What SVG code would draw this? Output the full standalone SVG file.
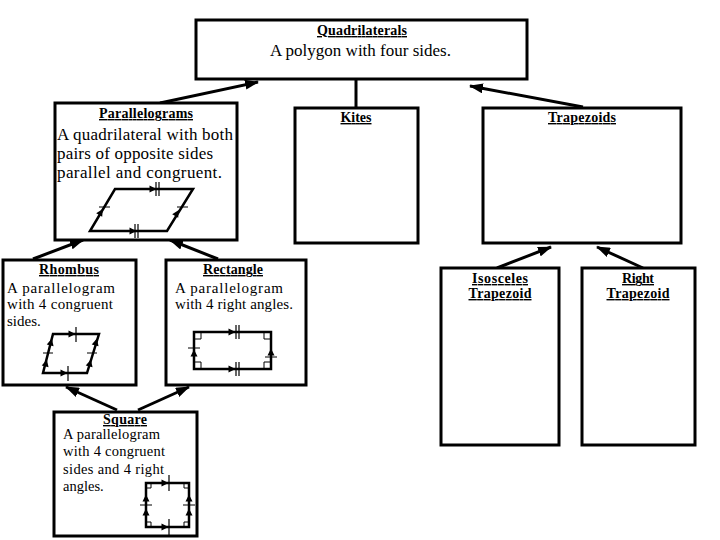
<svg xmlns="http://www.w3.org/2000/svg" xmlns:xlink="http://www.w3.org/1999/xlink" width="720" height="540" viewBox="0 0 720 540">
<style>
.box{fill:#fff;stroke:#000;stroke-width:3}
.title{font-family:"Liberation Serif","DejaVu Serif",serif;font-weight:bold;font-size:14px;text-decoration:underline;text-anchor:middle;fill:#000}
.body{font-family:"Liberation Serif","DejaVu Serif",serif;font-size:15px;fill:#000}
.big{font-size:17px}
.sm{font-size:14.5px}
.conn{stroke:#000;stroke-width:3;fill:none}
.shape{fill:none;stroke:#000;stroke-width:2.5}
.tick{stroke:#000;stroke-width:1.2;fill:none}
.ra{fill:none;stroke:#000;stroke-width:1}
</style>
<defs>
<marker id="arr" markerUnits="userSpaceOnUse" markerWidth="14" markerHeight="10" viewBox="0 0 14 10" refX="13" refY="5" orient="auto">
<path d="M0,0 L14,5 L0,10 z" fill="#000"/>
</marker>
<path id="tri" d="M-3.5,-3.5 L3.5,0 L-3.5,3.5 Z" fill="#000"/>
</defs>

<g id="connectors">
<line class="conn" x1="160" y1="103" x2="258" y2="82" marker-end="url(#arr)"/>
<line class="conn" x1="356" y1="79" x2="356" y2="108"/>
<line class="conn" x1="583" y1="107" x2="470" y2="86" marker-end="url(#arr)"/>
<line class="conn" x1="33" y1="259" x2="83" y2="240" marker-end="url(#arr)"/>
<line class="conn" x1="218" y1="259" x2="170" y2="240" marker-end="url(#arr)"/>
<line class="conn" x1="117" y1="410" x2="66" y2="387" marker-end="url(#arr)"/>
<line class="conn" x1="138" y1="410" x2="189" y2="387" marker-end="url(#arr)"/>
<line class="conn" x1="497" y1="268" x2="551" y2="247" marker-end="url(#arr)"/>
<line class="conn" x1="643" y1="268" x2="597" y2="247" marker-end="url(#arr)"/>
</g>

<g id="quadrilaterals">
<rect class="box" x="196" y="20" width="331" height="59"/>
<text class="title" x="362" y="35" textLength="90">Quadrilaterals</text>
<text class="body big" x="270" y="56" textLength="181">A polygon with four sides.</text>
</g>

<g id="parallelograms">
<rect class="box" x="55" y="103" width="182" height="137"/>
<text class="title" x="146" y="118" textLength="94">Parallelograms</text>
<text class="body big" x="57" y="140" textLength="176">A quadrilateral with both</text>
<text class="body big" x="57" y="159" textLength="156">pairs of opposite sides</text>
<text class="body big" x="57" y="178" textLength="165">parallel and congruent.</text>
<polygon class="shape" points="115,189 193,189 167,231 90,231"/>
<path class="tick" d="M156,182 V196 M159,182 V196 M135,224 V238 M138,224 V238 M99,207 H110 M177,207 H188"/>
<use xlink:href="#tri" transform="translate(153,189)"/>
<use xlink:href="#tri" transform="translate(133,231)"/>
<use xlink:href="#tri" transform="translate(101,212) rotate(-59)"/>
<use xlink:href="#tri" transform="translate(177,213) rotate(-59)"/>
</g>

<g id="kites">
<rect class="box" x="295" y="108" width="123" height="135"/>
<text class="title" x="356" y="122" textLength="31">Kites</text>
</g>

<g id="trapezoids">
<rect class="box" x="483" y="108" width="198" height="135"/>
<text class="title" x="582" y="122" textLength="68">Trapezoids</text>
</g>

<g id="rhombus">
<rect class="box" x="3" y="260" width="133" height="125"/>
<text class="title" x="69" y="274" textLength="60">Rhombus</text>
<text class="body" x="7" y="293" textLength="108">A parallelogram</text>
<text class="body" x="7" y="309" textLength="106">with 4 congruent</text>
<text class="body" x="7" y="326">sides.</text>
<polygon class="shape" points="53,334 99,334 87,373 43,373"/>
<path class="tick" d="M76,327 V342 M68,366 V381 M43,353 H53 M87,353 H97"/>
<use xlink:href="#tri" transform="translate(72,334)"/>
<use xlink:href="#tri" transform="translate(64,373)"/>
<use xlink:href="#tri" transform="translate(51,342) rotate(-76)"/>
<use xlink:href="#tri" transform="translate(46,363) rotate(-76)"/>
<use xlink:href="#tri" transform="translate(96,342) rotate(-76)"/>
<use xlink:href="#tri" transform="translate(90,363) rotate(-76)"/>
</g>

<g id="rectangle">
<rect class="box" x="166" y="260" width="140" height="125"/>
<text class="title" x="233" y="274" textLength="60">Rectangle</text>
<text class="body" x="175" y="293" textLength="108">A parallelogram</text>
<text class="body" x="175" y="309" textLength="118">with 4 right angles.</text>
<rect class="shape" x="194" y="332" width="77" height="37"/>
<path class="ra" d="M194,339 H201 V332 M264,332 V339 H271 M194,362 H201 V369 M264,369 V362 H271"/>
<path class="tick" d="M236,325 V339 M239,325 V339 M236,362 V376 M239,362 V376 M188,348 H200 M265,357 H277"/>
<use xlink:href="#tri" transform="translate(232,332)"/>
<use xlink:href="#tri" transform="translate(232,369)"/>
<use xlink:href="#tri" transform="translate(194,353) rotate(-90)"/>
<use xlink:href="#tri" transform="translate(271,352) rotate(-90)"/>
</g>

<g id="square">
<rect class="box" x="54" y="412" width="143" height="124"/>
<text class="title" x="125" y="424" textLength="44">Square</text>
<text class="body sm" x="63" y="439" textLength="97">A parallelogram</text>
<text class="body sm" x="63" y="456" textLength="102">with 4 congruent</text>
<text class="body sm" x="63" y="474" textLength="101">sides and 4 right</text>
<text class="body sm" x="63" y="491">angles.</text>
<rect class="shape" x="146" y="483" width="43" height="44"/>
<path class="ra" d="M146,488 H151 V483 M184,483 V488 H189 M146,522 H151 V527 M184,527 V522 H189"/>
<path class="tick" d="M169,475 V491 M169,519 V535 M140,505 H152 M183,505 H195"/>
<use xlink:href="#tri" transform="translate(165,483)"/>
<use xlink:href="#tri" transform="translate(165,527)"/>
<use xlink:href="#tri" transform="translate(146,498) rotate(-90)"/>
<use xlink:href="#tri" transform="translate(146,512) rotate(-90)"/>
<use xlink:href="#tri" transform="translate(189,498) rotate(-90)"/>
<use xlink:href="#tri" transform="translate(189,512) rotate(-90)"/>
</g>

<g id="isosceles-trapezoid">
<rect class="box" x="441" y="268" width="118" height="177"/>
<text class="title" x="500" y="283" textLength="56">Isosceles</text>
<text class="title" x="500" y="298" textLength="63">Trapezoid</text>
</g>

<g id="right-trapezoid">
<rect class="box" x="582" y="268" width="113" height="177"/>
<text class="title" x="638" y="283" textLength="32">Right</text>
<text class="title" x="638" y="298" textLength="63">Trapezoid</text>
</g>
</svg>
